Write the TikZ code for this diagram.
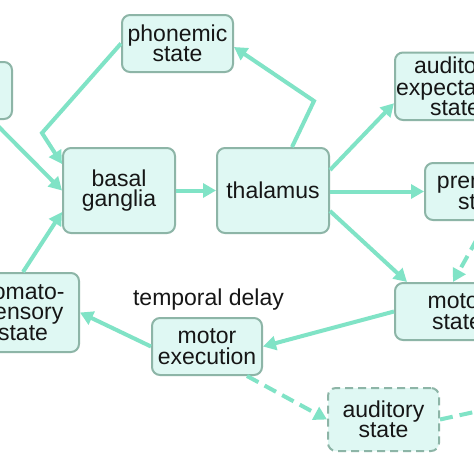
\documentclass[tikz,border=0pt]{standalone}
\usepackage{fontspec}
\setmainfont{Liberation Sans}
\usetikzlibrary{arrows.meta,calc}
\definecolor{boxfill}{HTML}{DFF8F3}
\definecolor{boxline}{HTML}{8DB5A7}
\definecolor{arrc}{HTML}{80E3C6}
\definecolor{txt}{HTML}{161616}
\begin{document}
\begin{tikzpicture}[x=1pt,y={(0pt,-1pt)},
  box/.style={draw=boxline,fill=boxfill,line width=2pt,rounded corners=8pt,
    align=center,inner sep=0pt,text=txt,font=\fontsize{23}{20.5}\selectfont},
  dbox/.style={box,dash pattern=on 8pt off 5pt},
  arr/.style={draw=arrc,line width=4pt,-{Triangle[length=13pt,width=14pt]}},
  darr/.style={arr,dash pattern=on 13pt off 7pt},
  lab/.style={inner sep=0pt,text=txt,font=\fontsize{23}{20.5}\selectfont}]
\useasboundingbox (0,0) rectangle (474,474);
\fill[white] (0,0) rectangle (474,474);
\clip (0,0) rectangle (474,474);
% nodes
\node[box,minimum width=110pt,minimum height=57pt] (tl) at (-43,90.5) {};
\node[box,minimum width=111pt,minimum height=57pt] (phon) at (177.5,43.5) {phonemic\\state};
\node[box,minimum width=112pt,minimum height=85pt] (basal) at (119,190.5) {basal\\ganglia};
\node[box,minimum width=112pt,minimum height=85pt] (thal) at (273,190.5) {thalamus};
\node[box,minimum width=120pt,minimum height=67.5pt] (audexp) at (455,86.25) {auditory\\expectation\\state};
\node[box,minimum width=116pt,minimum height=57pt] (prem) at (483,191.5) {premotor\\state};
\node[box,minimum width=124pt,minimum height=57pt] (mot) at (457,311.5) {motor\\state};
\node[dbox,minimum width=111pt,minimum height=63pt] (aud) at (383.5,419.5) {auditory\\state};
\node[box,minimum width=110pt,minimum height=57pt] (exec) at (207,346.5) {motor\\execution};
\node[box,minimum width=112pt,minimum height=79pt] (soma) at (23,312.5) {somato-\\sensory\\state};
\node[lab] (delay) at (208.5,300) {temporal delay};
% helper coordinates
\coordinate (c1) at (42,133);
\coordinate (c2) at (314,101);
\coordinate (offr) at (520,402);
% connectors
\draw[arr] ($(tl.south)+(35,0)$) -- (basal.west);
\draw[arr] (phon.west) -- (c1) -- ($(basal.north west)+(0,17)$);
\draw[arr] (soma.north) -- ($(basal.west)+(0,21.5)$);
\draw[arr] (basal.east) -- (thal.west);
\draw[arr] ($(thal.north)+(19,0)$) -- (c2) -- ($(phon.east)+(0,3.5)$);
\draw[arr] ($(thal.east)+(0,-20.5)$) -- ($(audexp.west)+(0,17)$);
\draw[arr] ($(thal.east)+(0,1)$) -- (prem.west);
\draw[arr] ($(thal.east)+(0,20.5)$) -- ($(mot.north west)+(13,0)$);
\draw[arr] (mot.west) -- (exec.east);
\draw[arr] (exec.west) -- (soma.east);
\draw[darr] ($(exec.south)+(40,0)$) -- (aud.west);
\draw[darr,-] (aud.east) -- (offr);
\draw[darr] ($(prem.south)+(4,0)$) -- ($(mot.north)+(-4,0)$);
\end{tikzpicture}
\end{document}
